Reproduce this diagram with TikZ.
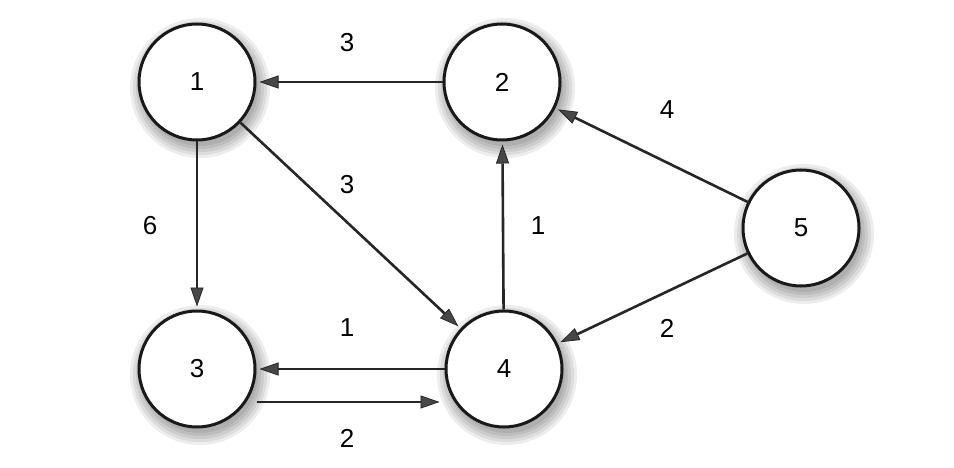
\documentclass[tikz,border=0pt]{standalone}
\usepackage{fontspec}
\setmainfont{Liberation Sans}
\usetikzlibrary{arrows.meta,calc}
\begin{document}
\begin{tikzpicture}[x=1pt,y=-1pt,
  vtx/.style={circle,draw=black!90,line width=3pt,fill=white,minimum size=116pt,inner sep=0pt,
    font=\fontsize{26}{26}\selectfont},
  edge/.style={line width=2.6pt,draw=black!85,
    -{Triangle[length=19pt,width=13pt,fill=black!72,line width=0.8pt]},shorten >=3pt},
  lbl/.style={font=\fontsize{26}{26}\selectfont,inner sep=0pt},
  shad/.style={fill=black,opacity=0.07}]
\useasboundingbox (0,0) rectangle (954,468);
\fill[white] (0,0) rectangle (954,468);
\foreach \px/\py in {197/82,502/82,197/369,504/369,801/228}{
  \foreach \r in {70,67,64,61,58}{
    \fill[shad] (\px+3,\py+6) circle (\r);
  }
}
\node[vtx] (n1) at (197,82) {1};
\node[vtx] (n2) at (502,82) {2};
\node[vtx] (n3) at (197,369) {3};
\node[vtx] (n4) at (504,369) {4};
\node[vtx] (n5) at (801,228) {5};
\coordinate (a) at ($(n3.east)+(0,33)$);
\coordinate (b) at ($(n4.west)+(-2,33)$);
\draw[edge] (n2) -- (n1);
\draw[edge] (n1) -- (n4);
\draw[edge] (n1) -- (n3);
\draw[edge] (n4) -- (n2);
\draw[edge] (n5) -- (n2);
\draw[edge] (n5) -- (n4);
\draw[edge] (n4) -- (n3);
\draw[edge] (a) -- (b);
\node[lbl] (l1) at (347,43) {3};
\node[lbl] (l2) at (347,185) {3};
\node[lbl] (l3) at (150,226) {6};
\node[lbl] (l4) at (538,226) {1};
\node[lbl] (l5) at (667,110) {4};
\node[lbl] (l6) at (667,328) {2};
\node[lbl] (l7) at (347,328) {1};
\node[lbl] (l8) at (347,438) {2};
\end{tikzpicture}
\end{document}
